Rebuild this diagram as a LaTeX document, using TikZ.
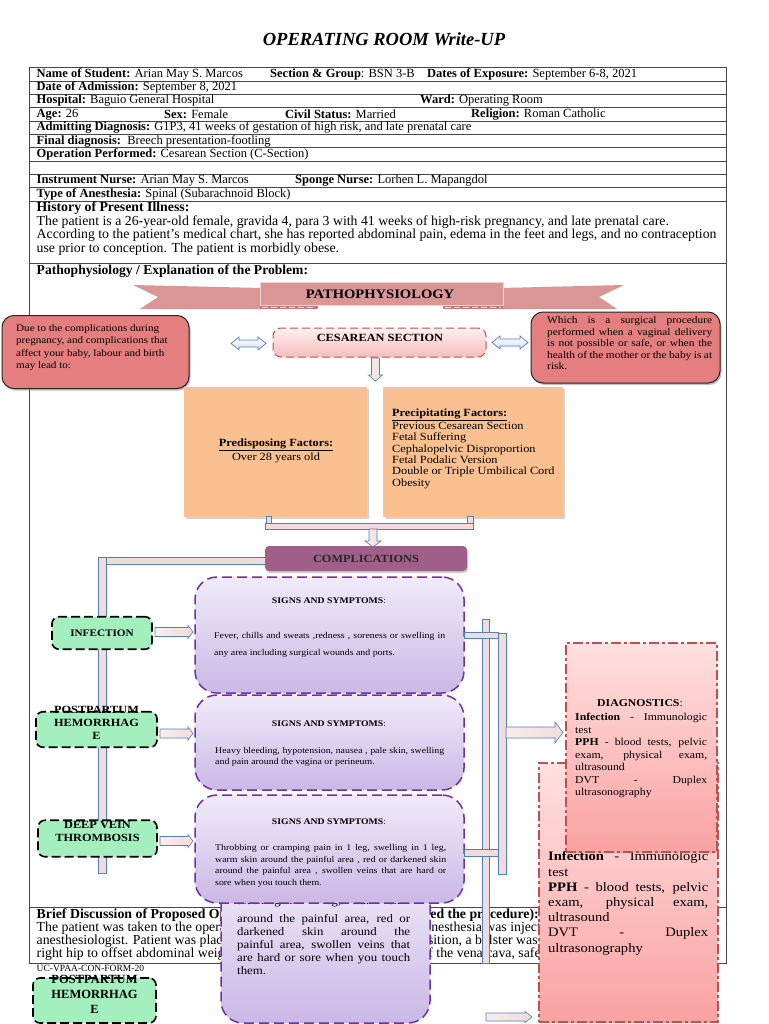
\documentclass[tikz,border=0pt]{standalone}
\usepackage{fontspec}
\setmainfont{Liberation Serif}
\newfontfamily\cam[FakeStretch=1.12]{Liberation Serif}
\usetikzlibrary{shadows}
\definecolor{rose}{RGB}{217,150,149}
\definecolor{rosedark}{RGB}{196,122,122}
\definecolor{sidered}{RGB}{229,126,126}
\definecolor{cestop}{RGB}{255,240,240}
\definecolor{cesbot}{RGB}{247,188,188}
\definecolor{redline}{RGB}{192,80,77}
\definecolor{peach}{RGB}{250,192,143}
\definecolor{mauve}{RGB}{160,94,136}
\definecolor{barfill}{RGB}{242,220,219}
\definecolor{barline}{RGB}{79,129,189}
\definecolor{dblfill}{RGB}{214,226,243}
\definecolor{mint}{RGB}{163,240,190}
\definecolor{lavtop}{RGB}{240,235,250}
\definecolor{lavbot}{RGB}{202,184,230}
\definecolor{purp}{RGB}{112,48,160}
\definecolor{diagtop}{RGB}{255,224,224}
\definecolor{diagbot}{RGB}{250,162,162}
\definecolor{tableline}{RGB}{70,70,70}
\newcommand\jline[2]{\makebox[#1pt][s]{#2}}
\newcommand\fsz[2]{\fontsize{#1pt}{#2pt}\selectfont}
\newcommand\harrow[6]{\path[blockarrow] (#1,{#3-#4}) -- ({#2-#6},{#3-#4}) -- ({#2-#6},{#3-#5}) -- (#2,#3) -- ({#2-#6},{#3+#5}) -- ({#2-#6},{#3+#4}) -- (#1,{#3+#4}) -- cycle;}
\newcommand\dblarrowh[3]{\path[dblarrow] (#1,#3) -- ({#1+8},{#3-6.5}) -- ({#1+8},{#3-3.5}) -- ({#2-8},{#3-3.5}) -- ({#2-8},{#3-6.5}) -- (#2,#3) -- ({#2-8},{#3+6.5}) -- ({#2-8},{#3+3.5}) -- ({#1+8},{#3+3.5}) -- ({#1+8},{#3+6.5}) -- cycle;}
\begin{document}
\begin{tikzpicture}[x=1pt,y=-1pt,
  tline/.style={draw=tableline,line width=0.9pt},
  ttext/.style={anchor=west,inner sep=0pt,font=\fsz{12.5}{14}},
  htext/.style={anchor=west,inner sep=0pt,font=\fsz{13.8}{14.5}},
  para/.style={anchor=north west,inner sep=0pt,align=left},
  barstyle/.style={fill=barfill,draw=barline,line width=0.6pt},
  blockarrow/.style={draw=barline,line width=0.6pt,left color=barfill!50!white,right color=barfill},
  dblarrow/.style={draw=barline,line width=0.7pt,top color=white,bottom color=dblfill},
  sidebox/.style={draw=black!85,line width=1pt,fill=sidered,rounded corners=12pt,inner sep=0pt,drop shadow={shadow xshift=1.5pt,shadow yshift=-2pt,opacity=0.5}},
  cesbox/.style={draw=redline,dash pattern=on 8pt off 4pt,line width=1pt,top color=cestop,bottom color=cesbot,rounded corners=8pt,inner sep=0pt},
  factorbox/.style={fill=peach,inner sep=0pt,drop shadow={shadow xshift=1.5pt,shadow yshift=-2pt,opacity=0.35}},
  compbox/.style={fill=mauve,rounded corners=4pt,inner sep=0pt,drop shadow={shadow xshift=1pt,shadow yshift=-2pt,opacity=0.4}},
  ssbox/.style={draw=purp,line width=1.5pt,dash pattern=on 10pt off 5pt,top color=lavtop,bottom color=lavbot,rounded corners=22pt,inner sep=0pt},
  greenbox/.style={draw=black,line width=1.6pt,dash pattern=on 9pt off 4pt,fill=mint,rounded corners=7pt,inner sep=0pt},
  diagbox/.style={draw=redline,line width=1.3pt,dash pattern=on 10pt off 3pt on 3pt off 3pt,top color=diagtop,bottom color=diagbot,inner sep=0pt},
]
\useasboundingbox (0,0) rectangle (768,1024);
\fill[white] (0,0) rectangle (768,1024);

% ---------- title ----------
\node[font=\fsz{18.5}{20}\bfseries\itshape] (title) at (384,39) {OPERATING ROOM Write-UP};

% ---------- table ----------
\draw[tline] (29.5,67.5) rectangle (726,963);
\foreach \yy in {81,94.3,107.7,121,134.3,147.7,161,174.3,187.7,201,263,907}
  \draw[tline] (29.5,\yy) -- (726,\yy);

\node[ttext] (r1a) at (36.5,74.2) {\textbf{Name of Student:} Arian May S. Marcos};
\node[ttext] (r1b) at (270,74.2) {\textbf{Section \& Group}: BSN 3-B};
\node[ttext] (r1c) at (427,74.2) {\textbf{Dates of Exposure:} September 6-8, 2021};
\node[ttext] (r2) at (36.5,87.7) {\textbf{Date of Admission:} September 8, 2021};
\node[ttext] (r3a) at (36.5,101) {\textbf{Hospital:} Baguio General Hospital};
\node[ttext] (r3b) at (420,101) {\textbf{Ward:} Operating Room};
\node[ttext] (r4a) at (36.5,114.3) {\textbf{Age:} 26};
\node[ttext] (r4b) at (164,114.3) {\textbf{Sex:} Female};
\node[ttext] (r4c) at (285,114.3) {\textbf{Civil Status:} Married};
\node[ttext] (r4d) at (471,114.3) {\textbf{Religion:} Roman Catholic};
\node[ttext] (r5) at (36.5,127.7) {\textbf{Admitting Diagnosis:} G1P3, 41 weeks of gestation of high risk, and late prenatal care};
\node[ttext] (r6) at (36.5,141) {\textbf{Final diagnosis:}\ \ Breech presentation-footling};
\node[ttext] (r7) at (36.5,154.3) {\textbf{Operation Performed:} Cesarean Section (C-Section)};
\node[ttext] (r9a) at (36.5,181) {\textbf{Instrument Nurse:} Arian May S. Marcos};
\node[ttext] (r9b) at (295,181) {\textbf{Sponge Nurse:} Lorhen L. Mapangdol};
\node[ttext] (r10) at (36.5,194.3) {\textbf{Type of Anesthesia:} Spinal (Subarachnoid Block)};

\node[htext] (hh) at (36.5,207.7) {\textbf{History of Present Illness:}};
\node[htext] (h1) at (36.5,222) {The patient is a 26-year-old female, gravida 4, para 3 with 41 weeks of high-risk pregnancy, and late prenatal care.};
\node[htext] (h2) at (36.5,235.5) {According to the patient's medical chart, she has reported abdominal pain, edema in the feet and legs, and no contraception};
\node[htext] (h3) at (36.5,249) {use prior to conception. The patient is morbidly obese.};
\node[htext,font=\fsz{13.6}{14.5}] (ph) at (36.5,271) {\textbf{Pathophysiology / Explanation of the Problem:}};

% brief discussion (partly covered later)
\node[htext] (bd0) at (36.5,915) {\textbf{Brief Discussion of Proposed Operation}};
\node[htext,anchor=east] (bd0r) at (539,915) {\textbf{(how you performed the procedure):}};
\node[htext] (bd1) at (36.5,928) {The patient was taken to the operating room};
\node[htext] (bd1r) at (425,928) {anesthesia was injected by the};
\node[htext] (bd2) at (36.5,941) {anesthesiologist. Patient was placed in};
\node[htext] (bd2r) at (414,941) {position, a bolster was placed under the};
\node[htext] (bd3) at (36.5,954) {right hip to offset abdominal weight};
\node[htext] (bd3r) at (417,954) {off the vena cava, safely};

% ---------- banner ----------
\fill[rose] (133,285) -- (262,288) -- (262,309) -- (140,309) -- (158,297) -- cycle;
\fill[rose] (624,285) -- (501,288) -- (501,309) -- (617,309) -- (599,297) -- cycle;
\fill[rosedark] (260,303) rectangle (318,309);
\fill[rosedark] (443,303) rectangle (503,309);
\node[draw=white!60!rose,line width=0.8pt,fill=rose,minimum width=243pt,minimum height=23pt,inner sep=0pt] (patho) at (381.5,293.5) {};
\node[font=\cam\bfseries\fsz{13}{15}] (pathot) at (380,294) {PATHOPHYSIOLOGY};
\draw[white!70!rose,dash pattern=on 6pt off 3pt] (262,307.5) -- (316,307.5) (445,307.5) -- (501,307.5);

% ---------- side boxes and cesarean ----------
\node[sidebox,minimum width=187pt,minimum height=73pt] (leftnote) at (95.5,352) {};
\node[para,font=\cam\fsz{9.9}{12.3}] (leftt) at (16,324.5) {Due to the complications during\\pregnancy, and complications that\\affect your baby, labour and birth\\may lead to:};
\node[sidebox,minimum width=189pt,minimum height=71pt] (rightnote) at (625.5,347.5) {};
\node[para,font=\cam\fsz{10.2}{11.6}] (rightt) at (547,316.3) {\jline{165}{Which is a surgical procedure}\\\jline{165}{performed when a vaginal delivery}\\\jline{165}{is not possible or safe, or when the}\\\jline{165}{health of the mother or the baby is at}\\risk.};
\node[cesbox,minimum width=213pt,minimum height=29pt] (ces) at (379.5,342.5) {};
\node[font=\cam\bfseries\fsz{11}{13}] (cest) at (380,337.5) {CESAREAN SECTION};
\dblarrowh{231}{266}{343.5}
\dblarrowh{492}{528}{342.5}
\path[blockarrow] (371.5,358) -- (379.5,358) -- (379.5,375) -- (382.5,375) -- (375.5,381) -- (368.5,375) -- (371.5,375) -- cycle;

% ---------- factors ----------
\node[factorbox,minimum width=183pt,minimum height=129.5pt] (predis) at (275.5,452) {};
\node[font=\cam\fsz{11}{13}] (predt1) at (276,445) {\textbf{\underline{Predisposing Factors:}}};
\node[font=\cam\fsz{11}{13}] (predt2) at (276,458) {Over 28 years old};
\node[factorbox,minimum width=180pt,minimum height=130pt] (precip) at (473,452) {};
\node[para,font=\cam\fsz{11}{11.3}] (prect) at (392,409) {\textbf{\underline{Precipitating Factors:}}\\Previous Cesarean Section\\Fetal Suffering\\Cephalopelvic Disproportion\\Fetal Podalic Version\\Double or Triple Umbilical Cord\\Obesity};

% bracket
\path[barstyle] (266,516) rectangle (271,523.5);
\path[barstyle] (467,516) rectangle (473,523.5);
\path[barstyle] (265,523) rectangle (473,529);
\path[blockarrow] (369,529) -- (377,529) -- (377,541) -- (381,541) -- (373,547) -- (365,541) -- (369,541) -- cycle;

% complications
\path[barstyle] (98,557) rectangle (268,564);
\path[barstyle] (98,557) rectangle (106.5,873);
\node[compbox,minimum width=202pt,minimum height=25pt] (comp) at (366,558.5) {};
\node[font=\cam\bfseries\fsz{11}{13},text=black!85] (compt) at (366,558.5) {COMPLICATIONS};

% right bars
\path[barstyle] (482,619) rectangle (489,963);
\path[barstyle] (498,633) rectangle (506,874);

% ---------- signs and symptoms ----------
\node[ssbox,minimum width=209pt,minimum height=154pt] (ss4) at (325.5,946) {};
\node[anchor=west,inner sep=0pt,font=\cam\fsz{11.5}{13}] (ss4h) at (237,902) {\jline{173}{swelling in 1 leg, warm skin}};
\node[para,font=\cam\fsz{11.5}{13}] (ss4t) at (237,913.9) {\jline{173}{around the painful area, red or}\\\jline{173}{darkened skin around the}\\\jline{173}{painful area, swollen veins that}\\\jline{173}{are hard or sore when you touch}\\them.};

\node[ssbox,minimum width=269pt,minimum height=116pt] (ss1) at (329.5,635) {};
\node[font=\cam\fsz{8.7}{10}] (ss1h) at (329,601) {\textbf{SIGNS AND SYMPTOMS}:};
\node[para,font=\cam\fsz{8.8}{17.5}] (ss1t) at (214,631.8) {\jline{231}{Fever, chills and sweats ,redness , soreness or swelling in}\\any area including surgical wounds and ports.};

\node[ssbox,minimum width=269pt,minimum height=95pt] (ss2) at (329.5,742.5) {};
\node[font=\cam\fsz{8.7}{10}] (ss2h) at (329,724) {\textbf{SIGNS AND SYMPTOMS}:};
\node[para,font=\cam\fsz{8.8}{11.5}] (ss2t) at (215,746.8) {\jline{229}{Heavy bleeding, hypotension, nausea , pale skin, swelling}\\and pain around the vagina or perineum.};

\node[ssbox,minimum width=269pt,minimum height=108pt] (ss3) at (329.5,849) {};
\node[font=\cam\fsz{8.7}{10}] (ss3h) at (329,821.5) {\textbf{SIGNS AND SYMPTOMS}:};
\node[para,font=\cam\fsz{8.8}{11.5}] (ss3t) at (215,844.3) {\jline{231}{Throbbing or cramping pain in 1 leg, swelling in 1 leg,}\\\jline{231}{warm skin around the painful area , red or darkened skin}\\\jline{231}{around the painful area , swollen veins that are hard or}\\sore when you touch them.};

% ---------- complications boxes ----------
\node[greenbox,minimum width=100pt,minimum height=32.5pt] (inf) at (102,633) {};
\node[font=\cam\bfseries\fsz{10}{12}] (inft) at (102,633) {INFECTION};
\harrow{155}{193}{632}{4.5}{6.5}{5}
\node[greenbox,minimum width=121pt,minimum height=35.5pt] (pph) at (96.5,729.5) {};
\node[anchor=north,inner sep=0pt,align=center,font=\cam\bfseries\fsz{11}{13}] (ppht) at (96.5,706) {POSTPARTUM\\HEMORRHAG\\E};
\harrow{160}{193}{733.5}{4.5}{6.5}{5}
\node[greenbox,minimum width=119pt,minimum height=36.5pt] (dvt) at (97.5,838.5) {};
\node[anchor=north,inner sep=0pt,align=center,font=\cam\bfseries\fsz{11}{13}] (dvtt) at (97.5,821) {DEEP VEIN\\THROMBOSIS};
\harrow{160}{193}{841}{4.5}{6.5}{5}

% right connectors
\path[barstyle] (464,632) rectangle (498.5,638);
\path[barstyle] (464,849) rectangle (498.5,856);
\harrow{506}{563}{732.5}{5.5}{10.5}{8}

% ---------- diagnostics ----------
\node[diagbox,minimum width=179pt,minimum height=259pt] (diag2) at (628.5,892.5) {};
\node[para,font=\cam\fsz{13}{15.2}] (diag2t) at (548,851.5) {\jline{160}{\textbf{Infection} - Immunologic}\\test\\\jline{160}{\textbf{PPH} - blood tests, pelvic}\\\jline{160}{exam, physical exam,}\\ultrasound\\\jline{160}{DVT - Duplex}\\ultrasonography};
\node[diagbox,minimum width=151pt,minimum height=209pt] (diag1) at (641.5,747.5) {};
\node[font=\cam\fsz{10.5}{12}] (diag1h) at (640,703) {\textbf{DIAGNOSTICS}:};
\node[para,font=\cam\fsz{10.5}{12.5}] (diag1t) at (575,713.3) {\jline{132}{\textbf{Infection} - Immunologic}\\test\\\jline{132}{\textbf{PPH} - blood tests, pelvic}\\\jline{132}{exam, physical exam,}\\ultrasound\\\jline{132}{DVT - Duplex}\\ultrasonography};

% ---------- overflow at the bottom ----------
\node[anchor=west,inner sep=0pt,font=\fsz{9.5}{11}] (form) at (36.5,968.5) {UC-VPAA-CON-FORM-20};
\node[greenbox,minimum width=123pt,minimum height=45pt] (pph2) at (94.5,1000.5) {};
\node[anchor=north,inner sep=0pt,align=center,font=\bfseries\fsz{12.5}{15}] (pph2t) at (94.5,975.5) {POSTPARTUM\\HEMORRHAG\\E};
\harrow{486}{532}{1017}{4}{5.5}{7}
\end{tikzpicture}
\end{document}
